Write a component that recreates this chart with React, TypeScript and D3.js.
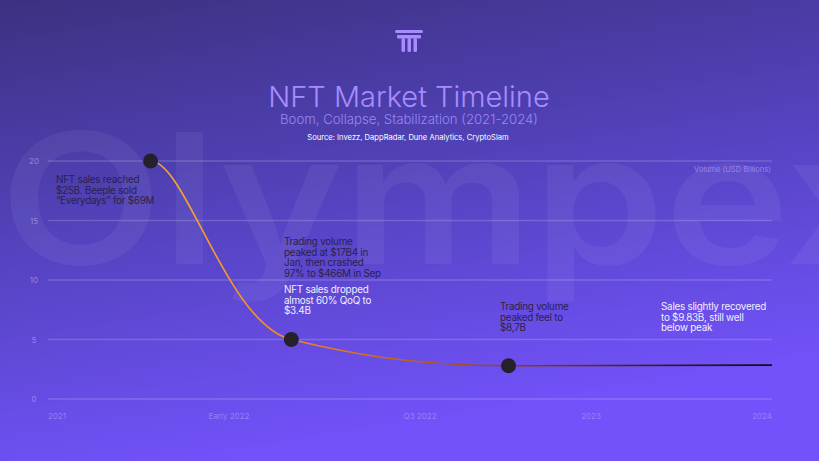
import React from 'react';
import * as d3 from 'd3';

const W = 819;
const H = 461;

// Axis ticks
const yTicks = [0, 5, 10, 15, 20];
const xTickLabels = ['2021', 'Early 2022', 'Q3 2022', '2023', '2024'];
const xTickMonths = [0, 9, 18.5, 27, 36]; // months since Jan 2021

// Series (Volume, USD billions)
const lineMonths = [5.1, 12.1, 22.9, 36];
const lineValues = [20, 5, 2.8, 2.85];
const eventMonths = [5.1, 12.1, 22.9];
const eventValues = [20, 5, 2.8];

// Annotation texts
const noteBoom = ['NFT sales reached', '$25B. Beeple sold', '\u201CEverydays\u201D for $69M'];
const noteCrash = ['Trading volume', 'peaked at $17B4 in', 'Jan, then crashed', '97% to $466M in Sep'];
const noteDrop = ['NFT sales dropped', 'almost 60% QoQ to', '$3.4B'];
const noteFall = ['Trading volume', 'peaked feel to', '$8,7B'];
const noteRecover = ['Sales slightly recovered', 'to $9.83B, still well', 'below peak'];

const watermark = 'Olympex';

const FONT = 'Inter, "DejaVu Sans", sans-serif';

function curvePath(pts: [number, number][]): string {
  const n = pts.length;
  const t: number[] = new Array(n).fill(0);
  const s: number[] = [];
  for (let i = 0; i < n - 1; i++) s.push((pts[i + 1][1] - pts[i][1]) / (pts[i + 1][0] - pts[i][0]));
  for (let i = 1; i < n - 1; i++) {
    const h0 = pts[i][0] - pts[i - 1][0];
    const h1 = pts[i + 1][0] - pts[i][0];
    const p = (s[i - 1] * h1 + s[i] * h0) / (h0 + h1);
    t[i] = (Math.sign(s[i - 1]) + Math.sign(s[i])) * Math.min(Math.abs(s[i - 1]), Math.abs(s[i]), 0.5 * Math.abs(p)) || 0;
  }
  t[0] = 0;
  t[n - 1] = (3 * s[n - 2] - t[n - 2]) / 2;
  const path = d3.path();
  path.moveTo(pts[0][0], pts[0][1]);
  const k0 = 0.25;
  const k1 = 0.46;
  for (let i = 0; i < n - 1; i++) {
    const [x0, y0] = pts[i];
    const [x1, y1] = pts[i + 1];
    const dx = x1 - x0;
    path.bezierCurveTo(x0 + k0 * dx, y0 + k0 * dx * t[i], x1 - k1 * dx, y1 - k1 * dx * t[i + 1], x1, y1);
  }
  return path.toString();
}

function Note({ lines, x, y, color }: { lines: string[]; x: number; y: number; color: string }) {
  return (
    <text x={x} y={y} fill={color} fontSize={9.9} fontFamily={FONT} letterSpacing={-0.25}>
      {lines.map((l, i) => (
        <tspan key={i} x={x} y={y + i * 10.7}>
          {l}
        </tspan>
      ))}
    </text>
  );
}

export default function App() {
  const x = d3.scaleLinear().domain([0, 36]).range([48, 772]);
  const y = d3.scaleLinear().domain([0, 20]).range([399, 161]);
  const pts: [number, number][] = lineMonths.map((m, i) => [x(m), y(lineValues[i])]);
  const d = curvePath(pts);
  const dark = '#2b2249';
  const light = '#f1edff';

  return (
    <svg
      width={W}
      height={H}
      viewBox={`0 0 ${W} ${H}`}
      style={{ position: 'absolute', left: 0, top: 0, display: 'block' }}
    >
      <defs>
        <linearGradient id="bg" x1="0" y1="0" x2="0.3" y2="1">
          <stop offset="0" stopColor="#3c3180" />
          <stop offset="0.5" stopColor="#5343be" />
          <stop offset="1" stopColor="#7352fb" />
        </linearGradient>
        <linearGradient id="ln" gradientUnits="userSpaceOnUse" x1={x(lineMonths[0])} y1="0" x2={x(lineMonths[lineMonths.length - 1])} y2="0">
          <stop offset="0" stopColor="#ffa733" />
          <stop offset="0.23" stopColor="#f0871c" />
          <stop offset="0.58" stopColor="#8a4220" />
          <stop offset="0.85" stopColor="#2c1a26" />
          <stop offset="1" stopColor="#0e0d14" />
        </linearGradient>
      </defs>
      <rect x={0} y={0} width={W} height={H} fill="url(#bg)" />

      {/* watermark */}
      <text
        x={0}
        y={264}
        fontSize={182}
        fontFamily={FONT}
        fontWeight={600}
        fill="#ffffff"
        fillOpacity={0.055}
        textLength={905}
        lengthAdjust="spacingAndGlyphs"
      >
        {watermark}
      </text>

      {/* logo */}
      <g fill="#a68cff">
        <rect x={395} y={30} width={28} height={3} rx={1.5} />
        <rect x={397} y={35} width={24} height={3.5} rx={1} />
        <rect x={401.5} y={38} width={3.5} height={14} rx={1.5} />
        <rect x={407.5} y={38} width={3.5} height={14} rx={1.5} />
        <rect x={413.5} y={38} width={3.5} height={14} rx={1.5} />
      </g>

      {/* titles */}
      <text x={409} y={107} textAnchor="middle" fontSize={29} fontFamily={FONT} fontWeight={300} fill="#a68cff">
        NFT Market Timeline
      </text>
      <text x={409} y={124} textAnchor="middle" fontSize={13.2} fontFamily={FONT} fontWeight={300} fill="#9c86f2">
        Boom, Collapse, Stabilization (2021-2024)
      </text>
      <text x={408} y={140} textAnchor="middle" fontSize={7.6} fontFamily={FONT} fill="#ffffff">
        Source: Invezz, DappRadar, Dune Analytics, CryptoSlam
      </text>

      {/* grid + y ticks */}
      {yTicks.map((v) => (
        <g key={v}>
          <line x1={48} x2={772} y1={y(v)} y2={y(v)} stroke="#ffffff" strokeOpacity={0.17} strokeWidth={1.3} />
          <text x={34} y={y(v) + 3} textAnchor="middle" fontSize={8} fontFamily={FONT} fill="#a898f5" fillOpacity={0.75}>
            {v}
          </text>
        </g>
      ))}
      <text x={771} y={172} textAnchor="end" fontSize={7.5} fontFamily={FONT} fill="#a898f5" fillOpacity={0.8}>
        Volume (USD Billions)
      </text>

      {/* x ticks */}
      {xTickLabels.map((l, i) => (
        <text
          key={l}
          x={x(xTickMonths[i])}
          y={419}
          textAnchor={i === 0 ? 'start' : i === xTickLabels.length - 1 ? 'end' : 'middle'}
          fontSize={8}
          fontFamily={FONT}
          fill="#a898f5"
          fillOpacity={0.7}
        >
          {l}
        </text>
      ))}

      {/* line */}
      <path d={d} fill="none" stroke="url(#ln)" strokeWidth={1.6} />
      {eventMonths.map((m, i) => (
        <circle key={m} cx={x(m)} cy={y(eventValues[i])} r={7.5} fill="#25212c" />
      ))}

      {/* annotations */}
      <Note lines={noteBoom} x={56} y={183} color={dark} />
      <Note lines={noteCrash} x={284} y={245} color={dark} />
      <Note lines={noteDrop} x={284} y={293} color={light} />
      <Note lines={noteFall} x={500} y={310} color={dark} />
      <Note lines={noteRecover} x={661} y={310} color={light} />
    </svg>
  );
}
